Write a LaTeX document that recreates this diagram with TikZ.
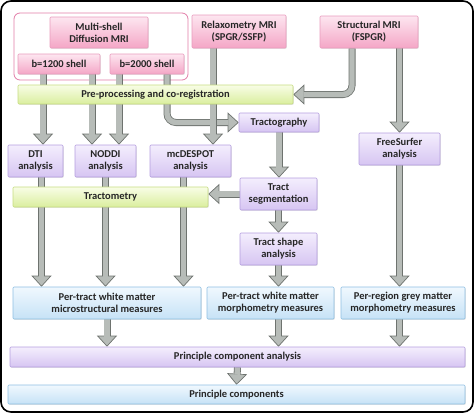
\documentclass[tikz,border=0pt]{standalone}
\usepackage{fontspec}
\setmainfont{Carlito}
\usetikzlibrary{arrows.meta,shadows}
\definecolor{pinkT}{HTML}{FDE6F0}
\definecolor{pinkB}{HTML}{F4A6C6}
\definecolor{pinkD}{HTML}{E99CBD}
\definecolor{grpD}{HTML}{E27DA8}
\definecolor{greenT}{HTML}{F8FDE6}
\definecolor{greenB}{HTML}{DAEE9E}
\definecolor{greenD}{HTML}{C6DC80}
\definecolor{purpT}{HTML}{F4EEFD}
\definecolor{purpB}{HTML}{D6C5F2}
\definecolor{purpD}{HTML}{B49EDF}
\definecolor{blueT}{HTML}{F0F8FE}
\definecolor{blueB}{HTML}{C6E2F6}
\definecolor{blueD}{HTML}{8EBFE2}
\definecolor{arrF}{HTML}{B7BCB8}
\definecolor{arrD}{HTML}{6E736F}
\definecolor{txt}{HTML}{262626}
\pgfdeclarelayer{bg}
\pgfdeclarelayer{arr}
\pgfsetlayers{bg,arr,main}
\tikzset{
  box/.style={rectangle,rounded corners=1pt,line width=0.6pt,align=center,inner sep=1pt,
    text=txt,font=\fontsize{10.5}{12}\selectfont\bfseries,
    drop shadow={opacity=0.2,shadow xshift=0.8pt,shadow yshift=-0.8pt}},
  pinkbox/.style={box,draw=pinkD,top color=pinkT,bottom color=pinkB},
  greenbar/.style={box,draw=greenD,top color=greenT,bottom color=greenB},
  purpbox/.style={box,draw=purpD,top color=purpT,bottom color=purpB},
  bluebox/.style={box,draw=blueD,top color=blueT,bottom color=blueB},
  group/.style={rectangle,rounded corners=6pt,draw=grpD,line width=0.8pt,fill=white},
  fatout/.style={line width=7pt,draw=arrD,-{Triangle[width=20pt,length=11pt,fill=arrF,line width=0.7pt]}},
  fatin/.style={line width=5.4pt,draw=arrF,shorten >=10pt}
}
\newcommand{\fatarrow}[1]{\draw[fatout] #1;\draw[fatin] #1;}
\begin{document}
\begin{tikzpicture}[x=1pt,y=-1pt]
\useasboundingbox (0,0) rectangle (474,413);
\draw[black,line width=1.6pt,rounded corners=10pt](1,1) rectangle (473,412);

\node[pinkbox,minimum width=98pt,minimum height=31pt](dmri) at (99,32.5){Multi-shell\\Diffusion MRI};
\node[pinkbox,minimum width=82pt,minimum height=20pt](bA) at (59,64){b=1200 shell};
\node[pinkbox,minimum width=74pt,minimum height=20pt](bB) at (147,64){b=2000 shell};
\node[pinkbox,minimum width=94pt,minimum height=33pt](relax) at (239,31.5){Relaxometry MRI\\(SPGR/SSFP)};
\node[pinkbox,minimum width=98pt,minimum height=32pt](struct) at (369,32){Structural MRI\\(FSPGR)};
\node[greenbar,minimum width=275pt,minimum height=19pt](prep) at (155.5,94.5){Pre-processing and co-registration};
\node[purpbox,minimum width=80pt,minimum height=19pt](tracto) at (279,122.5){Tractography};
\node[purpbox,minimum width=55pt,minimum height=32pt](dti) at (35.5,161){DTI\\analysis};
\node[purpbox,minimum width=61pt,minimum height=32pt](noddi) at (105.5,161){NODDI\\analysis};
\node[purpbox,minimum width=81pt,minimum height=32pt](mcd) at (190.5,161){mcDESPOT\\analysis};
\node[purpbox,minimum width=77pt,minimum height=32pt](tseg) at (278.5,194){Tract\\segmentation};
\node[greenbar,minimum width=195pt,minimum height=20pt](tmetry) at (110.5,197){Tractometry};
\node[purpbox,minimum width=77pt,minimum height=32pt](tshape) at (278.5,249){Tract shape\\analysis};
\node[purpbox,minimum width=81pt,minimum height=32pt](fs) at (399.5,149){FreeSurfer\\analysis};
\node[bluebox,minimum width=188pt,minimum height=32pt](micro) at (107,303){Per-tract white matter\\microstructural measures};
\node[bluebox,minimum width=127pt,minimum height=32pt](morph) at (270.5,303){Per-tract white matter\\morphometry measures};
\node[bluebox,minimum width=124pt,minimum height=32pt](grey) at (403,303){Per-region grey matter\\morphometry measures};
\node[purpbox,minimum width=455pt,minimum height=20pt](pca) at (237.5,357){Principle component analysis};
\node[bluebox,minimum width=457pt,minimum height=19pt](pc) at (236.5,394.5){Principle components};

\begin{pgfonlayer}{bg}
\node[group,minimum width=174pt,minimum height=67pt](dgroup) at (101,46.5){};
\end{pgfonlayer}

\begin{pgfonlayer}{arr}
\fatarrow{([xshift=-16pt]bA.south) -- ([xshift=-16pt]bA.south |- dti.north)}
\fatarrow{([xshift=33pt]bA.south) -- ([xshift=33pt]bA.south |- noddi.north)}
\fatarrow{([xshift=-28pt]bB.south) -- ([xshift=-28pt]bB.south |- noddi.north)}
\fatarrow{[rounded corners=9pt]([xshift=20pt]bB.south) |- (tracto.west)}
\fatarrow{([xshift=-26pt]relax.south) -- ([xshift=-26pt]relax.south |- mcd.north)}
\fatarrow{[rounded corners=9pt]([xshift=-17pt]struct.south) |- (prep.east)}
\fatarrow{(struct.south -| fs.north) -- (fs.north)}
\fatarrow{(tracto.south) -- (tracto.south |- tseg.north)}
\fatarrow{(tseg.west) -- (tseg.west -| tmetry.east)}
\fatarrow{(tseg.south) -- (tshape.north)}
\fatarrow{(tshape.south) -- (tshape.south |- morph.north)}
\fatarrow{(fs.south) -- (fs.south |- grey.north)}
\fatarrow{([xshift=6pt]dti.south) -- ([xshift=6pt]dti.south |- micro.north)}
\fatarrow{(noddi.south) -- (noddi.south |- micro.north)}
\fatarrow{([xshift=-7pt]mcd.south) -- ([xshift=-7pt]mcd.south |- micro.north)}
\fatarrow{(micro.south) -- (micro.south |- pca.north)}
\fatarrow{(morph.south -| tshape.south) -- (tshape.south |- pca.north)}
\fatarrow{(grey.south -| fs.south) -- (fs.south |- pca.north)}
\fatarrow{(pca.south) -- (pc.north)}
\end{pgfonlayer}
\end{tikzpicture}
\end{document}
